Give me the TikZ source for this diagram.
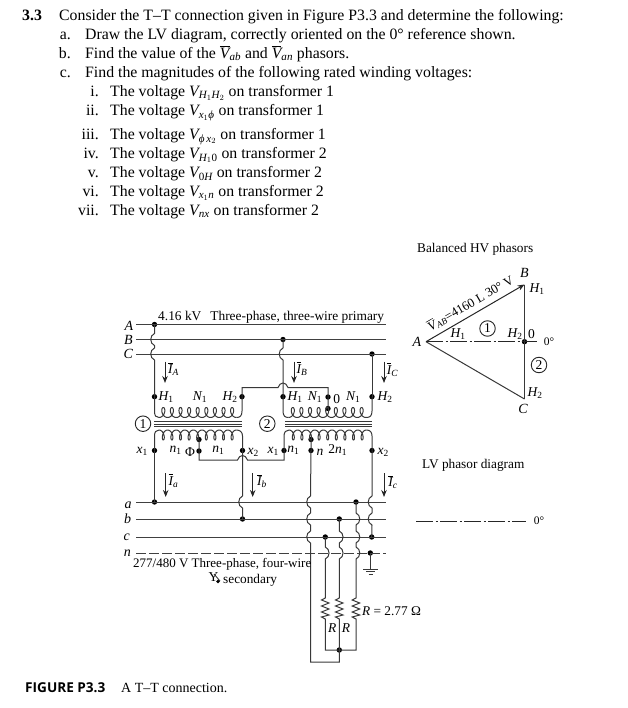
\documentclass[tikz,border=0pt]{standalone}
\usepackage{amsmath}
\usepackage{fontspec}
\setmainfont{Liberation Serif}
\newfontfamily\headsans{Open Sans}
\usetikzlibrary{arrows.meta}
\newcommand\mi[1]{\text{\itshape #1}}
\newcommand\bari[2]{$\overline{\mi{#1}}_{\mi{#2}}$}
\newcommand\dotn[3]{\node[dotnode] (#1) at (#2,#3) {};}
% vertical wire hop over a bus at (x,y); s=-1 bulges left, s=1 bulges right
\newcommand\hv[3]{-- (#1,{#2-6}) .. controls ({#1+#3*5},{#2-4}) and ({#1+#3*5},{#2+4}) .. (#1,{#2+6})}
% horizontal hop upward
\newcommand\hh[2]{-- ({#1-5},#2) .. controls ({#1-3},{#2-6}) and ({#1+3},{#2-6}) .. ({#1+5},#2)}
% coil loops upward (primary)
\newcommand\coilup[1]{\draw[wire] plot[domain=0:3240,samples=260,variable=\t,smooth] ({#1+8.6*(\t/360)+3.4*sin(\t)},{412.5+5*cos(\t)});}
% coil loops downward (secondary)
\newcommand\coildn[1]{\draw[wire] plot[domain=0:3240,samples=260,variable=\t,smooth] ({#1+8.6*(\t/360)+2.8*sin(\t)},{435-5*cos(\t)});}
\tikzset{
  wire/.style={line width=1pt,black!78},
  bus/.style={line width=1pt,black!75},
  dotnode/.style={circle,fill=black,inner sep=0pt,minimum size=5.4pt},
  body/.style={anchor=base west,inner sep=0pt,font=\fontsize{15.8}{15.8}\selectfont},
  enum/.style={anchor=base east,inner sep=0pt,font=\fontsize{15.8}{15.8}\selectfont},
  lab/.style={inner sep=0pt,font=\fontsize{13.5}{13.5}\selectfont},
  ilab/.style={inner sep=0pt,font=\fontsize{14}{14}\selectfont\itshape},
  caplab/.style={anchor=base west,inner sep=0pt,font=\fontsize{13.3}{13.3}\selectfont},
  numcirc/.style={circle,draw=black!85,line width=0.9pt,minimum size=15.5pt,inner sep=0pt,font=\fontsize{13.5}{13.5}\selectfont},
  curarrow/.style={line width=1pt,black!85,-{Stealth[length=7pt,width=5.5pt]}},
  phasor/.style={dash pattern=on 17pt off 2.5pt on 2pt off 2.5pt,line width=0.9pt,black!85}
}
\begin{document}
\begin{tikzpicture}[x=1pt,y=-1pt]
\useasboundingbox (0,0) rectangle (627,708);
% problem text
\node[anchor=base west,inner sep=0pt,font=\bfseries\fontsize{15.8}{15.8}\selectfont] (num) at (22,20.7) {3.3};
\node[body] (t0) at (59,20.7) {Consider the T–T connection given in Figure P3.3 and determine the following:};
\node[enum] (la) at (71,39.2) {a.};
\node[body] (ta) at (85,39.2) {Draw the LV diagram, correctly oriented on the 0° reference shown.};
\node[enum] (lb) at (71,58.2) {b.};
\node[body] (tb) at (85,58.2) {Find the value of the $\overline{\mi{V}}_{\mi{ab}}$ and $\overline{\mi{V}}_{\mi{an}}$ phasors.};
\node[enum] (lc) at (71,77.6) {c.};
\node[body] (tc) at (85,77.6) {Find the magnitudes of the following rated winding voltages:};
\node[enum] (l1) at (99,96.7) {i.};
\node[body] (t1) at (110,96.7) {The voltage $\mi{V}_{\mi{H}_1\mi{H}_2}$ on transformer 1};
\node[enum] (l2) at (99,116) {ii.};
\node[body] (t2) at (110,116) {The voltage $\mi{V}_{\mi{x}_1\mi{ϕ}}$ on transformer 1};
\node[enum] (l3) at (99,139.3) {iii.};
\node[body] (t3) at (110,139.3) {The voltage $\mi{V}_{\mi{ϕ}\,\mi{x}_2}$ on transformer 1};
\node[enum] (l4) at (99,158.7) {iv.};
\node[body] (t4) at (110,158.7) {The voltage $\mi{V}_{\mi{H}_1\text{0}}$ on transformer 2};
\node[enum] (l5) at (99,177.7) {v.};
\node[body] (t5) at (110,177.7) {The voltage $\mi{V}_{\text{0}\mi{H}}$ on transformer 2};
\node[enum] (l6) at (99,196.5) {vi.};
\node[body] (t6) at (110,196.5) {The voltage $\mi{V}_{\mi{x}_1\mi{n}}$ on transformer 2};
\node[enum] (l7) at (99,215.5) {vii.};
\node[body] (t7) at (110,215.5) {The voltage $\mi{V}_{\mi{nx}}$ on transformer 2};

% junction dots
\dotn{dA}{154.5}{324.5}
\dotn{dB}{283}{339.5}
\dotn{dC}{372}{354}
\dotn{dHa}{154.5}{396.7}
\dotn{dHb}{242}{396.7}
\dotn{dHc}{283}{396.7}
\dotn{dHd}{372}{396.7}
\dotn{dZa}{328}{397}
\dotn{dZb}{328}{408.5}
\dotn{dXa}{154.5}{450.5}
\dotn{dXb}{242.5}{450.5}
\dotn{dXc}{284}{450.5}
\dotn{dXd}{372}{450.5}
\dotn{dPa}{199}{439.5}
\dotn{dPb}{199}{451}
\dotn{dNa}{311}{439.5}
\dotn{dNb}{311}{450.5}
\dotn{dBa}{154.5}{502}
\dotn{dBb}{242.5}{519}
\dotn{dBc}{371.7}{537}
\dotn{dRc}{325.3}{537}
\dotn{dRb}{339.3}{519}
\dotn{dRa}{356}{502}
\dotn{dRn}{339.3}{650}
\dotn{dGn}{370.3}{553}

% buses
\coordinate (Al) at (136,324.5); \coordinate (Ar) at (386,324.5);
\coordinate (Bl) at (136,339.5); \coordinate (Br) at (386,339.5);
\coordinate (Cl) at (136,354); \coordinate (Cr) at (386,354);
\coordinate (al) at (136,502); \coordinate (ar) at (386,502);
\coordinate (bl) at (136,519); \coordinate (br) at (386,519);
\coordinate (cl) at (136,537); \coordinate (cr) at (386,537);
\coordinate (nl) at (136,553); \coordinate (nr) at (386,553);
\draw[bus] (Al) -- (Ar);
\draw[bus] (Bl) -- (Br);
\draw[bus] (Cl) -- (Cr);
\draw[bus] (al) -- (ar);
\draw[bus] (bl) -- (br);
\draw[bus] (cl) -- (cr);
\draw[bus,dash pattern=on 10pt off 3pt] (nl) -- (nr);

% primary feeds
\draw[wire] (dA.center) \hv{154.5}{339.5}{-1} \hv{154.5}{354}{-1} -- (dHa.center);
\draw[wire] (dB.center) \hv{283}{354}{-1} -- (dHc.center);
\draw[wire] (dC.center) -- (dHd.center);
% transformer 1 primary
\coilup{159}
\draw[wire] (dHa.center) -- (154.5,411) .. controls (154.5,416) and (156,417.5) .. (159,417.5);
\draw[wire] (236.4,417.5) .. controls (240,417.5) and (242,416) .. (242,411) -- (dHb.center);
% transformer 2 primary
\coilup{288.5}
\draw[wire] (dHc.center) -- (283,411) .. controls (283,416) and (285,417.5) .. (288.5,417.5);
\draw[wire] (365.9,417.5) .. controls (370,417.5) and (372,416) .. (372,411) -- (dHd.center);
% interconnection H2 to midpoint 0
\draw[wire] (dHb.center) -- (242,387.5) \hh{283}{387.5} -- (328,387.5) -- (dZa.center) -- (dZb.center);
% cores
\foreach \yy in {421.5,424,426.7}{
  \draw[line width=0.85pt,black!78] (154,\yy) -- (241.5,\yy);
  \draw[line width=0.85pt,black!78] (285,\yy) -- (372,\yy);
}
\node[numcirc] (c1) at (143,423.7) {1};
\node[numcirc] (c2) at (267.3,423.7) {2};
% secondaries
\coildn{159}
\draw[wire] (dXa.center) -- (154.5,436) .. controls (154.5,432) and (156,430) .. (159,430);
\draw[wire] (236.4,430) .. controls (240,430) and (242.5,432) .. (242.5,436) -- (dXb.center);
\coildn{289}
\draw[wire] (dXc.center) -- (284,436) .. controls (284,432) and (286,430) .. (289,430);
\draw[wire] (366.4,430) .. controls (370,430) and (372,432) .. (372,436) -- (dXd.center);
% centre tap of transformer 1 to x1 of transformer 2
\draw[wire] (dPa.center) -- (dPb.center) -- (199,460) \hh{242.5}{460} -- (284,460) -- (dXc.center);
% secondary feeds
\draw[wire] (dXa.center) -- (dBa.center);
\draw[wire] (dXb.center) \hv{242.5}{502}{-1} -- (dBb.center);
\draw[wire] (dNa.center) -- (dNb.center) \hv{310.5}{502}{-1} \hv{310.5}{519}{-1} \hv{310.5}{537}{-1} -- (310.5,662) -- (339.3,662) -- (dRn.center);
\draw[wire] (dXd.center) \hv{372}{502}{-1} \hv{372}{519}{-1} -- (dBc.center);
% resistor loads
\draw[wire] (dRc.center) \hv{325.3}{553}{1} -- (325.3,598) -- (321.5,600) -- (329,603) -- (321.5,606) -- (329,609) -- (321.5,612) -- (329,615) -- (321.5,617) -- (325.3,619) -- (325.3,650) -- (dRn.center);
\draw[wire] (dRb.center) \hv{339.3}{537}{1} \hv{339.3}{553}{1} -- (339.3,598) -- (335.5,600) -- (343,603) -- (335.5,606) -- (343,609) -- (335.5,612) -- (343,615) -- (335.5,617) -- (339.3,619) -- (dRn.center);
\draw[wire] (dRa.center) \hv{356}{519}{1} \hv{356}{537}{1} \hv{356}{553}{1} -- (356,598) -- (352.2,600) -- (359.7,603) -- (352.2,606) -- (359.7,609) -- (352.2,612) -- (359.7,615) -- (352.2,617) -- (356,619) -- (356,650) -- (dRn.center);
% ground
\coordinate (g0) at (370.3,569);
\draw[wire] (dGn.center) -- (g0);
\draw[wire] (363,569) -- (378,569);
\draw[wire] (366,571.5) -- (375,571.5);
\draw[wire] (368.5,574) -- (372.5,574);
% current arrows
\coordinate (ia0) at (165,361.5); \coordinate (ia1) at (165,383);
\coordinate (ib0) at (294,361.5); \coordinate (ib1) at (294,383);
\coordinate (ic0) at (384,361.5); \coordinate (ic1) at (384,383);
\coordinate (ja0) at (165.7,473); \coordinate (ja1) at (165.7,497);
\coordinate (jb0) at (252.7,473); \coordinate (jb1) at (252.7,497);
\coordinate (jc0) at (384,473); \coordinate (jc1) at (384,497);
\draw[curarrow] (ia0) -- (ia1);
\draw[curarrow] (ib0) -- (ib1);
\draw[curarrow] (ic0) -- (ic1);
\draw[curarrow] (ja0) -- (ja1);
\draw[curarrow] (jb0) -- (jb1);
\draw[curarrow] (jc0) -- (jc1);
\node[lab] (iA) at (173.5,369) {\bari{I}{A}};
\node[lab] (iB) at (302,368.5) {\bari{I}{B}};
\node[lab] (iC) at (392.5,369.5) {\bari{I}{C}};
\node[lab] (ia) at (173.5,480.5) {\bari{I}{a}};
\node[lab] (ib) at (262,481) {\bari{I}{b}};
\node[lab] (ic) at (393,482) {\bari{I}{c}};
% bus labels
\node[ilab] (nA) at (129,325.5) {A};
\node[ilab] (nB) at (128.3,340) {B};
\node[ilab] (nC) at (128.3,354.3) {C};
\node[ilab] (na) at (128,505) {a};
\node[ilab] (nb) at (127.7,519) {b};
\node[ilab] (nc) at (126.7,537) {c};
\node[ilab] (nn) at (127.3,552.7) {n};
% winding labels
\node[lab] (H1a) at (166,397) {\itshape H\textsubscript{\upshape 1}};
\node[lab] (N1a) at (200,397) {\itshape N\textsubscript{\upshape 1}};
\node[lab] (H2a) at (230,397) {\itshape H\textsubscript{\upshape 2}};
\node[lab] (H1b) at (295,397) {\itshape H\textsubscript{\upshape 1}};
\node[lab] (N1b) at (315,397) {\itshape N\textsubscript{\upshape 1}};
\node[lab] (zero) at (336.7,399) {0};
\node[lab] (N1c) at (353.3,397) {\itshape N\textsubscript{\upshape 1}};
\node[lab] (H2b) at (385,397) {\itshape H\textsubscript{\upshape 2}};
\node[lab] (x1a) at (142.3,451) {\itshape x\textsubscript{\upshape 1}};
\node[lab] (n1a) at (175.7,450) {\itshape n\textsubscript{\upshape 1}};
\node[lab] (phi) at (190,451.7) {Φ};
\node[lab] (n1b) at (218.3,450) {\itshape n\textsubscript{\upshape 1}};
\node[lab] (x2a) at (253.3,452) {\itshape x\textsubscript{\upshape 2}};
\node[lab] (x1b) at (273.3,451) {\itshape x\textsubscript{\upshape 1}};
\node[lab] (n1c) at (293.3,450) {\itshape n\textsubscript{\upshape 1}};
\node[lab] (nnn) at (320,452.7) {\itshape n};
\node[lab] (n2) at (337.7,450) {2\textit{n}\textsubscript{1}};
\node[lab] (x2b) at (383.3,452.7) {\itshape x\textsubscript{\upshape 2}};
\node[lab] (Ra) at (332.3,627.7) {\itshape R};
\node[lab] (Rb) at (346,627.7) {\itshape R};
\node[caplab] (Rv) at (362,615.7) {\textit{R} = 2.77 Ω};
% captions
\node[caplab,font=\fontsize{13.4}{13.4}\selectfont] (capv) at (158,320) {4.16 kV\hspace{9pt}Three-phase, three-wire primary};
\node[caplab,font=\fontsize{13}{13}\selectfont] (caps) at (133,567) {277/480 V Three-phase, four-wire};
\node[lab] (capY) at (213.5,577.5) {Y};
\draw[line width=0.8pt,black!85] (214,574) -- (220,581);
\node[dotnode,minimum size=3.8pt] (capG) at (218,581.5) {};
\node[caplab] (capsec) at (223,583.5) {secondary};
\node[anchor=base west,inner sep=0pt,font=\headsans\bfseries\fontsize{13.6}{14}\selectfont] (fig) at (25,692) {FIGURE P3.3};
\node[caplab,font=\fontsize{14}{14}\selectfont] (figt) at (121,692) {A T–T connection.};
% HV phasors
\node[caplab] (hvt) at (417,252) {Balanced HV phasors};
\coordinate (PA) at (426,341.7);
\coordinate (PB) at (524.5,284.5);
\coordinate (PC) at (524.5,399);
\coordinate (PE) at (537,341.7);
\dotn{PO}{524.5}{341.7}
\draw[curarrow] (PA) -- (PB);
\draw[wire] (PA) -- (PC);
\draw[wire] (PB) -- (PC);
\draw[phasor] (PA) -- (PE);
\node[ilab] (pA) at (417,342) {A};
\node[ilab] (pB) at (524.5,273) {B};
\node[ilab] (pC) at (523,409) {C};
\node[lab] (pH1) at (537,289) {\itshape H\textsubscript{\upshape 1}};
\node[lab] (pH1m) at (458,334) {\itshape H\textsubscript{\upshape 1}};
\node[lab] (pH2m) at (515,334) {\itshape H\textsubscript{\upshape 2}};
\node[lab] (pH2) at (535,393) {\itshape H\textsubscript{\upshape 2}};
\node[lab] (p0) at (531.6,334) {0};
\node[lab,font=\fontsize{11.5}{12}\selectfont] (pdeg) at (549,342) {0°};
\node[numcirc] (pc1) at (487.5,328.5) {1};
\node[numcirc] (pc2) at (539,365) {2};
\node[lab,rotate=30,font=\fontsize{12.8}{12.8}\selectfont] (pv) at (470.5,303) {$\overline{\mi{V}}_{\mi{AB}}$=4160 L 30° V};
% LV phasors
\node[caplab] (lvt) at (422,468) {LV phasor diagram};
\coordinate (LA) at (416,521);
\coordinate (LB) at (526,521);
\draw[phasor] (LA) -- (LB);
\node[lab,font=\fontsize{11.5}{12}\selectfont] (ldeg) at (539,521) {0°};
\end{tikzpicture}
\end{document}
